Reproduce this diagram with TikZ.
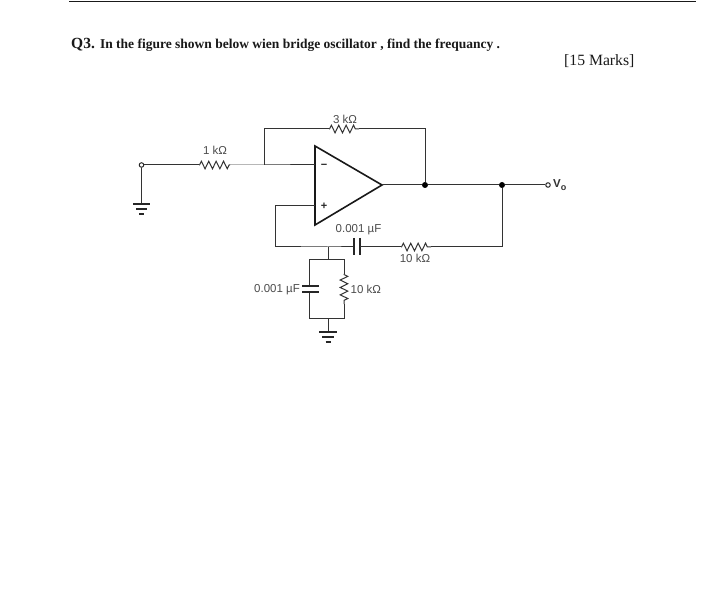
\documentclass[tikz,border=0pt]{standalone}
\usepackage{fontspec}
\setmainfont{Liberation Serif}
\newfontfamily\lblfont{Liberation Sans}
\usetikzlibrary{decorations.pathmorphing}
\tikzset{
  wire/.style={draw=black!80, line width=1pt},
  resistor/.style={wire, decorate, decoration={zigzag, segment length=7.4pt, amplitude=3.8pt, pre length=0.5pt, post length=0.5pt}},
  plate/.style={draw=black!85, line width=1.5pt},
  gndbar/.style={draw=black!85, line width=1.4pt},
  junction/.style={circle, fill=black, inner sep=0pt, minimum size=6pt},
  terminal/.style={circle, draw=black!85, fill=white, line width=1pt, inner sep=0pt, minimum size=4.5pt},
  val/.style={font=\lblfont\fontsize{11.5}{13}\selectfont, text=black!70, inner sep=0pt},
  sign/.style={font=\lblfont\bfseries\fontsize{11}{13}\selectfont, text=black!85, inner sep=0pt},
  doc/.style={inner sep=0pt, anchor=base west, text=black!90},
}
\begin{document}
\begin{tikzpicture}[x=1pt,y=-1pt]
\useasboundingbox (0,0) rectangle (703,593);
\fill[white] (0,0) rectangle (703,593);
% document text
\coordinate (ruleL) at (69,1);
\coordinate (ruleR) at (696,1);
\draw[black!90, line width=0.9pt] (ruleL) -- (ruleR);
\node[doc] (title) at (71,49) {\fontsize{15.5}{17}\selectfont\bfseries Q3. \fontsize{13.5}{15}\selectfont In the figure shown below wien bridge oscillator , find the frequancy .};
\node[doc] (marks) at (564,65.5) {\fontsize{15.7}{17}\selectfont [15 Marks]};
% op-amp
\coordinate (oaTop) at (315,146);
\coordinate (oaBot) at (315,225);
\coordinate (oaTip) at (382,185);
\draw[draw=black!90, line width=1.6pt, line join=miter] (oaTop) -- (oaTip) -- (oaBot) -- cycle;
\coordinate (inv) at (315,165);
\coordinate (noninv) at (315,206);
\node[sign] (minus) at (324,166) {\textminus};
\node[sign] (plus) at (324,206) {+};
% input branch
\node[terminal] (input) at (141.5,165) {};
\coordinate (r1a) at (199,165);
\coordinate (r1b) at (230,165);
\coordinate (nodeA) at (264,165);
\coordinate (gnd1) at (141.5,204);
\draw[wire] (input) -- (r1a);
\draw[resistor] (r1a) -- (r1b);
\draw[wire] (r1b) -- (nodeA) -- (inv);
\draw[wire] (input) -- (gnd1);
\draw[gndbar] (133,204) -- (150,204) (136,209) -- (147,209) (139,214) -- (144,214);
% feedback
\coordinate (fbTL) at (264,129);
\coordinate (r3a) at (329,129);
\coordinate (r3b) at (359,129);
\coordinate (fbTR) at (425,129);
\node[junction] (out1) at (425,185) {};
\node[junction] (out2) at (502,185) {};
\node[terminal] (vo) at (548,185) {};
\draw[wire] (nodeA) -- (fbTL) -- (r3a);
\draw[resistor] (r3a) -- (r3b);
\draw[wire] (r3b) -- (fbTR) -- (out1);
\draw[wire] (oaTip) -- (out1) -- (out2) -- (vo);
% positive feedback network
\coordinate (plusL) at (275,206);
\coordinate (plusB) at (275,247);
\coordinate (nodeB) at (328,247);
\coordinate (c1a) at (354,247);
\coordinate (c1b) at (360,247);
\coordinate (r2a) at (401,247);
\coordinate (r2b) at (431,247);
\coordinate (r2R) at (502,247);
\draw[wire] (noninv) -- (plusL) -- (plusB) -- (nodeB) -- (c1a);
\draw[plate] (354,238) -- (354,255) (360,238) -- (360,255);
\draw[wire] (c1b) -- (r2a);
\draw[resistor] (r2a) -- (r2b);
\draw[wire] (r2b) -- (r2R) -- (out2);
% shunt
\coordinate (stemT) at (328,260);
\coordinate (boxTL) at (309.5,260);
\coordinate (boxTR) at (344,260);
\coordinate (boxBL) at (309.5,318);
\coordinate (boxBR) at (344,318);
\coordinate (stemB) at (328,318);
\coordinate (gnd2) at (328,332);
\coordinate (c2a) at (309.5,286);
\coordinate (c2b) at (309.5,292);
\coordinate (r4a) at (344,274);
\coordinate (r4b) at (344,304);
\draw[wire] (nodeB) -- (stemT);
\draw[wire] (c2a) -- (boxTL) -- (boxTR) -- (r4a);
\draw[resistor] (r4a) -- (r4b);
\draw[wire] (r4b) -- (boxBR) -- (boxBL) -- (c2b);
\draw[plate] (302,286) -- (319,286) (302,292) -- (319,292);
\draw[wire] (stemB) -- (gnd2);
\draw[gndbar] (319,332) -- (337,332) (322,337) -- (334,337) (325.5,342) -- (330.5,342);
% labels
\node[val] (l3k) at (345,119.5) {3 kΩ};
\node[val] (l1k) at (215,150.5) {1 kΩ};
\node[val] (lc1) at (358.5,230) {0.001 µF};
\node[val] (lr2) at (415,258) {10 kΩ};
\node[val, anchor=east] (lc2) at (300,289.5) {0.001 µF};
\node[val, anchor=west] (lr4) at (350.5,289.5) {10 kΩ};
\node[font=\lblfont\bfseries\fontsize{11.5}{13}\selectfont, text=black!80, inner sep=0pt, anchor=west] (lvo) at (553,185) {V\raisebox{-2.5pt}{\fontsize{9}{10}\selectfont o}};
\end{tikzpicture}
\end{document}
